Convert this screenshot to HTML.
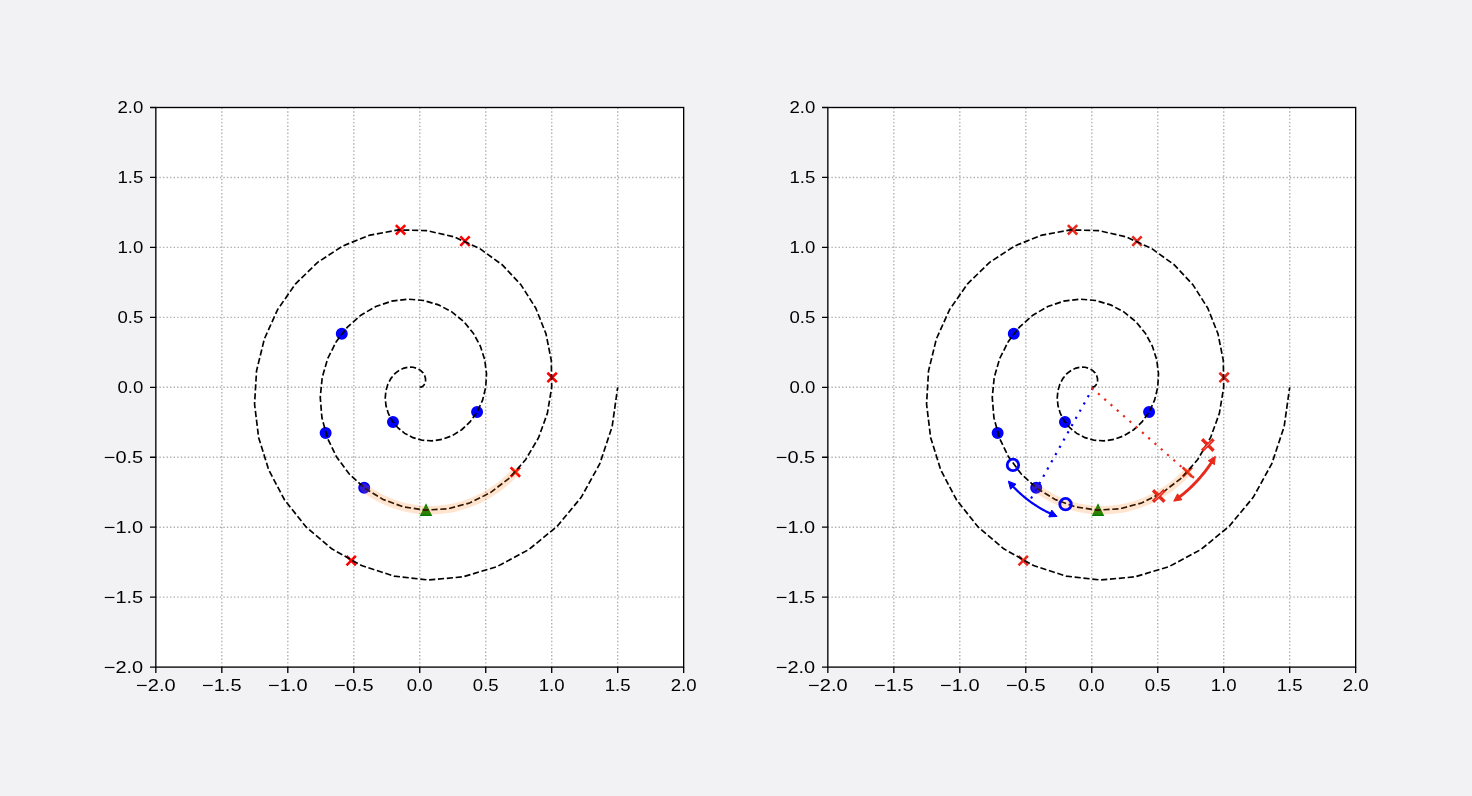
<!DOCTYPE html>
<html><head><meta charset="utf-8"><style>html,body{margin:0;padding:0;background:#f2f2f4;width:1472px;height:796px;overflow:hidden}</style></head>
<body><svg width="1472" height="796" viewBox="0 0 1472 796" style="display:block;will-change:transform">
<rect width="1472" height="796" fill="#f2f2f4"/>
<g font-family="'Liberation Sans', sans-serif" font-size="16.67" fill="#000">
<rect x="155.84" y="107.50" width="527.83" height="559.60" fill="#ffffff"/>
<path d="M221.82 667.10 L221.82 107.50 M155.84 597.15 L683.67 597.15 M287.80 667.10 L287.80 107.50 M155.84 527.20 L683.67 527.20 M353.78 667.10 L353.78 107.50 M155.84 457.25 L683.67 457.25 M419.75 667.10 L419.75 107.50 M155.84 387.30 L683.67 387.30 M485.73 667.10 L485.73 107.50 M155.84 317.35 L683.67 317.35 M551.71 667.10 L551.71 107.50 M155.84 247.40 L683.67 247.40 M617.69 667.10 L617.69 107.50 M155.84 177.45 L683.67 177.45" stroke="#b0b0b0" stroke-width="1.4" stroke-dasharray="1.4 2.154" fill="none"/>
<path d="M395.86 225.09 L405.26 234.49 M395.86 234.49 L405.26 225.09" stroke="#ff0000" stroke-width="2.6" fill="none"/>
<path d="M460.28 236.40 L469.68 245.80 M460.28 245.80 L469.68 236.40" stroke="#ff0000" stroke-width="2.6" fill="none"/>
<path d="M547.42 372.71 L556.82 382.11 M547.42 382.11 L556.82 372.71" stroke="#ff0000" stroke-width="2.6" fill="none"/>
<path d="M510.65 467.39 L520.05 476.79 M510.65 476.79 L520.05 467.39" stroke="#ff0000" stroke-width="2.6" fill="none"/>
<path d="M346.49 555.91 L355.89 565.31 M346.49 565.31 L355.89 555.91" stroke="#ff0000" stroke-width="2.6" fill="none"/>
<circle cx="341.79" cy="333.70" r="5.2" fill="#0000ff" stroke="#0000ff" stroke-width="1.6"/>
<circle cx="325.64" cy="432.89" r="5.2" fill="#0000ff" stroke="#0000ff" stroke-width="1.6"/>
<circle cx="392.97" cy="421.98" r="5.2" fill="#0000ff" stroke="#0000ff" stroke-width="1.6"/>
<circle cx="477.07" cy="412.11" r="5.2" fill="#0000ff" stroke="#0000ff" stroke-width="1.6"/>
<circle cx="364.19" cy="487.82" r="5.2" fill="#0000ff" stroke="#0000ff" stroke-width="1.6"/>
<path d="M426.01 505.13 L421.01 515.13 L431.01 515.13 Z" fill="#008000" stroke="#008000" stroke-width="1.6" stroke-linejoin="miter"/>
<path d="M419.75 387.30 L421.72 386.90 L423.47 385.72 L424.80 383.86 L425.54 381.45 L425.55 378.67 L424.74 375.73 L423.05 372.88 L420.52 370.36 L417.19 368.42 L413.22 367.27 L408.76 367.11 L404.04 368.08 L399.32 370.27 L394.88 373.70 L390.98 378.34 L387.91 384.08 L385.92 390.73 L385.22 398.05 L385.99 405.75 L388.32 413.51 L392.26 420.94 L397.76 427.69 L404.71 433.37 L412.93 437.65 L422.13 440.23 L432.01 440.86 L442.18 439.36 L452.23 435.65 L461.72 429.72 L470.21 421.68 L477.30 411.72 L482.58 400.14 L485.73 387.30 L486.50 373.66 L484.72 359.73 L480.31 346.04 L473.29 333.18 L463.83 321.69 L452.15 312.10 L438.61 304.90 L423.66 300.49 L407.80 299.18 L391.64 301.17 L375.77 306.53 L360.84 315.21 L347.46 327.03 L336.23 341.65 L327.67 358.63 L322.23 377.43 L320.24 397.37 L321.92 417.76 L327.35 437.81 L336.46 456.75 L349.05 473.81 L364.77 488.26 L383.14 499.47 L403.54 506.89 L425.27 510.10 L447.57 508.84 L469.59 502.99 L490.50 492.63 L509.47 477.99 L525.72 459.50 L538.55 437.72 L547.36 413.38 L551.71 387.30 L551.29 360.42 L545.97 333.73 L535.81 308.23 L521.05 284.91 L502.10 264.71 L479.56 248.47 L454.16 236.92 L426.79 230.62 L398.41 229.94 L370.06 235.06 L342.78 245.95 L317.63 262.35 L295.60 283.79 L277.59 309.60 L264.37 338.93 L256.55 370.78 L254.56 404.02 L258.61 437.46 L268.70 469.86 L284.60 499.99 L305.85 526.67 L331.78 548.84 L361.56 565.58 L394.15 576.13 L428.41 579.97 L463.12 576.82 L497.00 566.62 L528.77 549.61 L557.22 526.26 L581.22 497.32 L599.80 463.72 L612.15 426.61 L617.69 387.30" stroke="#000" stroke-width="1.67" stroke-dasharray="6.20 2.686" stroke-dashoffset="0" fill="none"/>
<path d="M364.19 487.82 L367.37 490.17 L370.65 492.40 L374.00 494.52 L377.44 496.52 L380.96 498.39 L384.54 500.14 L388.20 501.76 L391.91 503.24 L395.69 504.59 L399.52 505.79 L403.41 506.86 L407.33 507.78 L411.30 508.56 L415.31 509.19 L419.35 509.67 L423.41 510.00 L427.49 510.18 L431.59 510.21 L435.71 510.08 L439.82 509.79 L443.94 509.35 L448.06 508.76 L452.16 508.01 L456.25 507.10 L460.32 506.03 L464.36 504.81 L468.38 503.44 L472.35 501.91 L476.29 500.22 L480.18 498.39 L484.01 496.40 L487.79 494.27 L491.51 491.99 L495.15 489.56 L498.73 486.99 L502.23 484.28 L505.65 481.44 L508.98 478.45 L512.21 475.34 L515.35 472.09" stroke="#ff7f0e" stroke-opacity="0.2" stroke-width="8.5" fill="none" stroke-linecap="round"/>
<rect x="155.84" y="107.50" width="527.83" height="559.60" fill="none" stroke="#000" stroke-width="1.33"/>
<path d="M155.84 667.10 L155.84 672.93 M155.84 667.10 L150.01 667.10 M221.82 667.10 L221.82 672.93 M155.84 597.15 L150.01 597.15 M287.80 667.10 L287.80 672.93 M155.84 527.20 L150.01 527.20 M353.78 667.10 L353.78 672.93 M155.84 457.25 L150.01 457.25 M419.75 667.10 L419.75 672.93 M155.84 387.30 L150.01 387.30 M485.73 667.10 L485.73 672.93 M155.84 317.35 L150.01 317.35 M551.71 667.10 L551.71 672.93 M155.84 247.40 L150.01 247.40 M617.69 667.10 L617.69 672.93 M155.84 177.45 L150.01 177.45 M683.67 667.10 L683.67 672.93 M155.84 107.50 L150.01 107.50" stroke="#000" stroke-width="1.33" fill="none"/>
<text x="155.84" y="691.30" text-anchor="middle" textLength="39.46" lengthAdjust="spacingAndGlyphs">−2.0</text>
<text x="143.24" y="672.60" text-anchor="end" textLength="39.46" lengthAdjust="spacingAndGlyphs">−2.0</text>
<text x="221.82" y="691.30" text-anchor="middle" textLength="39.46" lengthAdjust="spacingAndGlyphs">−1.5</text>
<text x="143.24" y="602.65" text-anchor="end" textLength="39.46" lengthAdjust="spacingAndGlyphs">−1.5</text>
<text x="287.80" y="691.30" text-anchor="middle" textLength="39.46" lengthAdjust="spacingAndGlyphs">−1.0</text>
<text x="143.24" y="532.70" text-anchor="end" textLength="39.46" lengthAdjust="spacingAndGlyphs">−1.0</text>
<text x="353.78" y="691.30" text-anchor="middle" textLength="39.46" lengthAdjust="spacingAndGlyphs">−0.5</text>
<text x="143.24" y="462.75" text-anchor="end" textLength="39.46" lengthAdjust="spacingAndGlyphs">−0.5</text>
<text x="419.75" y="691.30" text-anchor="middle" textLength="25.84" lengthAdjust="spacingAndGlyphs">0.0</text>
<text x="143.24" y="392.80" text-anchor="end" textLength="25.84" lengthAdjust="spacingAndGlyphs">0.0</text>
<text x="485.73" y="691.30" text-anchor="middle" textLength="25.84" lengthAdjust="spacingAndGlyphs">0.5</text>
<text x="143.24" y="322.85" text-anchor="end" textLength="25.84" lengthAdjust="spacingAndGlyphs">0.5</text>
<text x="551.71" y="691.30" text-anchor="middle" textLength="25.84" lengthAdjust="spacingAndGlyphs">1.0</text>
<text x="143.24" y="252.90" text-anchor="end" textLength="25.84" lengthAdjust="spacingAndGlyphs">1.0</text>
<text x="617.69" y="691.30" text-anchor="middle" textLength="25.84" lengthAdjust="spacingAndGlyphs">1.5</text>
<text x="143.24" y="182.95" text-anchor="end" textLength="25.84" lengthAdjust="spacingAndGlyphs">1.5</text>
<text x="683.67" y="691.30" text-anchor="middle" textLength="25.84" lengthAdjust="spacingAndGlyphs">2.0</text>
<text x="143.24" y="113.00" text-anchor="end" textLength="25.84" lengthAdjust="spacingAndGlyphs">2.0</text>
<rect x="827.84" y="107.50" width="527.83" height="559.60" fill="#ffffff"/>
<path d="M893.82 667.10 L893.82 107.50 M827.84 597.15 L1355.67 597.15 M959.80 667.10 L959.80 107.50 M827.84 527.20 L1355.67 527.20 M1025.78 667.10 L1025.78 107.50 M827.84 457.25 L1355.67 457.25 M1091.76 667.10 L1091.76 107.50 M827.84 387.30 L1355.67 387.30 M1157.73 667.10 L1157.73 107.50 M827.84 317.35 L1355.67 317.35 M1223.71 667.10 L1223.71 107.50 M827.84 247.40 L1355.67 247.40 M1289.69 667.10 L1289.69 107.50 M827.84 177.45 L1355.67 177.45" stroke="#b0b0b0" stroke-width="1.4" stroke-dasharray="1.4 2.154" fill="none"/>
<path d="M1067.86 225.09 L1077.26 234.49 M1067.86 234.49 L1077.26 225.09" stroke="#e8291c" stroke-width="2.6" fill="none"/>
<path d="M1132.28 236.40 L1141.68 245.80 M1132.28 245.80 L1141.68 236.40" stroke="#e8291c" stroke-width="2.6" fill="none"/>
<path d="M1219.42 372.71 L1228.82 382.11 M1219.42 382.11 L1228.82 372.71" stroke="#e8291c" stroke-width="2.6" fill="none"/>
<path d="M1182.65 467.39 L1192.05 476.79 M1182.65 476.79 L1192.05 467.39" stroke="#e8291c" stroke-width="2.6" fill="none"/>
<path d="M1018.49 555.91 L1027.89 565.31 M1018.49 565.31 L1027.89 555.91" stroke="#e8291c" stroke-width="2.6" fill="none"/>
<circle cx="1013.79" cy="333.70" r="5.2" fill="#0000ff" stroke="#0000ff" stroke-width="1.6"/>
<circle cx="997.64" cy="432.89" r="5.2" fill="#0000ff" stroke="#0000ff" stroke-width="1.6"/>
<circle cx="1064.97" cy="421.98" r="5.2" fill="#0000ff" stroke="#0000ff" stroke-width="1.6"/>
<circle cx="1149.07" cy="412.11" r="5.2" fill="#0000ff" stroke="#0000ff" stroke-width="1.6"/>
<circle cx="1036.19" cy="487.82" r="5.2" fill="#0000ff" stroke="#0000ff" stroke-width="1.6"/>
<path d="M1098.01 505.13 L1093.01 515.13 L1103.01 515.13 Z" fill="#008000" stroke="#008000" stroke-width="1.6" stroke-linejoin="miter"/>
<path d="M1091.76 387.30 L1093.72 386.90 L1095.47 385.72 L1096.80 383.86 L1097.54 381.45 L1097.55 378.67 L1096.74 375.73 L1095.05 372.88 L1092.52 370.36 L1089.19 368.42 L1085.22 367.27 L1080.76 367.11 L1076.04 368.08 L1071.32 370.27 L1066.88 373.70 L1062.98 378.34 L1059.91 384.08 L1057.92 390.73 L1057.22 398.05 L1057.99 405.75 L1060.32 413.51 L1064.26 420.94 L1069.76 427.69 L1076.71 433.37 L1084.93 437.65 L1094.13 440.23 L1104.01 440.86 L1114.18 439.36 L1124.23 435.65 L1133.72 429.72 L1142.21 421.68 L1149.30 411.72 L1154.58 400.14 L1157.73 387.30 L1158.50 373.66 L1156.72 359.73 L1152.31 346.04 L1145.29 333.18 L1135.83 321.69 L1124.15 312.10 L1110.61 304.90 L1095.66 300.49 L1079.80 299.18 L1063.64 301.17 L1047.77 306.53 L1032.84 315.21 L1019.46 327.03 L1008.23 341.65 L999.67 358.63 L994.23 377.43 L992.24 397.37 L993.92 417.76 L999.35 437.81 L1008.46 456.75 L1021.05 473.81 L1036.77 488.26 L1055.14 499.47 L1075.54 506.89 L1097.27 510.10 L1119.57 508.84 L1141.59 502.99 L1162.50 492.63 L1181.47 477.99 L1197.72 459.50 L1210.55 437.72 L1219.36 413.38 L1223.71 387.30 L1223.29 360.42 L1217.97 333.73 L1207.81 308.23 L1193.05 284.91 L1174.10 264.71 L1151.56 248.47 L1126.16 236.92 L1098.79 230.62 L1070.41 229.94 L1042.06 235.06 L1014.78 245.95 L989.63 262.35 L967.60 283.79 L949.59 309.60 L936.37 338.93 L928.55 370.78 L926.56 404.02 L930.61 437.46 L940.70 469.86 L956.60 499.99 L977.85 526.67 L1003.78 548.84 L1033.56 565.58 L1066.15 576.13 L1100.41 579.97 L1135.12 576.82 L1169.00 566.62 L1200.77 549.61 L1229.22 526.26 L1253.22 497.32 L1271.80 463.72 L1284.15 426.61 L1289.69 387.30" stroke="#000" stroke-width="1.67" stroke-dasharray="6.20 2.686" stroke-dashoffset="0" fill="none"/>
<path d="M1036.19 487.82 L1039.37 490.17 L1042.65 492.40 L1046.00 494.52 L1049.44 496.52 L1052.96 498.39 L1056.54 500.14 L1060.20 501.76 L1063.91 503.24 L1067.69 504.59 L1071.52 505.79 L1075.41 506.86 L1079.33 507.78 L1083.30 508.56 L1087.31 509.19 L1091.35 509.67 L1095.41 510.00 L1099.49 510.18 L1103.59 510.21 L1107.71 510.08 L1111.82 509.79 L1115.94 509.35 L1120.06 508.76 L1124.16 508.01 L1128.25 507.10 L1132.32 506.03 L1136.36 504.81 L1140.38 503.44 L1144.35 501.91 L1148.29 500.22 L1152.18 498.39 L1156.01 496.40 L1159.79 494.27 L1163.51 491.99 L1167.15 489.56 L1170.73 486.99 L1174.23 484.28 L1177.65 481.44 L1180.98 478.45 L1184.21 475.34 L1187.35 472.09" stroke="#ff7f0e" stroke-opacity="0.2" stroke-width="8.5" fill="none" stroke-linecap="round"/>
<path d="M1092.91 387.95 L1031.06 498.45" stroke="#0000ff" stroke-width="2.2" stroke-dasharray="2.2 6.095" fill="none"/>
<path d="M1091.76 387.80 L1194.00 477.90" stroke="#e8291c" stroke-width="2.2" stroke-dasharray="2.2 6.175" fill="none"/>
<circle cx="1012.96" cy="464.97" r="5.75" fill="none" stroke="#0000ff" stroke-width="2.8"/>
<circle cx="1065.54" cy="504.21" r="5.75" fill="none" stroke="#0000ff" stroke-width="2.8"/>
<path d="M1202.08 439.21 L1213.58 450.71 M1202.08 450.71 L1213.58 439.21" stroke="#e8291c" stroke-width="3.3" fill="none"/>
<path d="M1204.28 448.51 L1211.38 441.41" stroke="#ffffff" stroke-width="0.8" stroke-dasharray="1.1 0.7" fill="none"/>
<path d="M1153.02 490.27 L1164.52 501.77 M1153.02 501.77 L1164.52 490.27" stroke="#e8291c" stroke-width="3.3" fill="none"/>
<path d="M1155.22 499.57 L1162.32 492.47" stroke="#ffffff" stroke-width="0.8" stroke-dasharray="1.1 0.7" fill="none"/>
<path d="M1012.26 485.61 L1013.10 486.50 L1013.94 487.39 L1014.79 488.26 L1015.65 489.13 L1016.52 489.99 L1017.40 490.84 L1018.29 491.68 L1019.18 492.52 L1020.08 493.34 L1020.99 494.16 L1021.91 494.97 L1022.84 495.77 L1023.77 496.55 L1024.71 497.33 L1025.66 498.11 L1026.62 498.87 L1027.58 499.62 L1028.55 500.36 L1029.53 501.09 L1030.52 501.82 L1031.51 502.53 L1032.51 503.23 L1033.52 503.92 L1034.53 504.61 L1035.55 505.28 L1036.58 505.95 L1037.62 506.60 L1038.66 507.24 L1039.70 507.87 L1040.75 508.49 L1041.81 509.11 L1042.88 509.71 L1043.95 510.29 L1045.03 510.87 L1046.11 511.44 L1047.20 512.00 L1048.29 512.55 L1049.39 513.08 L1050.49 513.61 L1051.60 514.12" stroke="#0000ff" stroke-width="2.2" fill="none"/>
<path d="M1008.34 481.17 L1016.03 484.22 L1010.51 489.16 Z" fill="#0000ff" stroke="#0000ff" stroke-width="1" stroke-linejoin="miter"/>
<path d="M1057.05 516.45 L1048.78 516.89 L1051.74 510.11 Z" fill="#0000ff" stroke="#0000ff" stroke-width="1" stroke-linejoin="miter"/>
<path d="M1212.16 461.42 L1211.48 462.46 L1210.79 463.50 L1210.10 464.53 L1209.39 465.55 L1208.67 466.57 L1207.95 467.58 L1207.22 468.58 L1206.48 469.58 L1205.73 470.57 L1204.97 471.56 L1204.21 472.54 L1203.43 473.51 L1202.65 474.48 L1201.86 475.44 L1201.06 476.39 L1200.26 477.33 L1199.44 478.27 L1198.62 479.20 L1197.79 480.12 L1196.95 481.04 L1196.10 481.95 L1195.24 482.85 L1194.38 483.75 L1193.51 484.63 L1192.63 485.51 L1191.74 486.38 L1190.85 487.24 L1189.95 488.10 L1189.04 488.95 L1188.12 489.78 L1187.19 490.61 L1186.26 491.43 L1185.32 492.25 L1184.38 493.05 L1183.42 493.85 L1182.46 494.64 L1181.49 495.42 L1180.52 496.19 L1179.53 496.95 L1178.54 497.70" stroke="#e8291c" stroke-width="2.9" fill="none"/>
<path d="M1215.28 456.39 L1214.48 464.63 L1208.21 460.70 Z" fill="#e8291c" stroke="#e8291c" stroke-width="1" stroke-linejoin="miter"/>
<path d="M1173.74 501.16 L1177.55 493.81 L1181.90 499.80 Z" fill="#e8291c" stroke="#e8291c" stroke-width="1" stroke-linejoin="miter"/>
<rect x="827.84" y="107.50" width="527.83" height="559.60" fill="none" stroke="#000" stroke-width="1.33"/>
<path d="M827.84 667.10 L827.84 672.93 M827.84 667.10 L822.01 667.10 M893.82 667.10 L893.82 672.93 M827.84 597.15 L822.01 597.15 M959.80 667.10 L959.80 672.93 M827.84 527.20 L822.01 527.20 M1025.78 667.10 L1025.78 672.93 M827.84 457.25 L822.01 457.25 M1091.76 667.10 L1091.76 672.93 M827.84 387.30 L822.01 387.30 M1157.73 667.10 L1157.73 672.93 M827.84 317.35 L822.01 317.35 M1223.71 667.10 L1223.71 672.93 M827.84 247.40 L822.01 247.40 M1289.69 667.10 L1289.69 672.93 M827.84 177.45 L822.01 177.45 M1355.67 667.10 L1355.67 672.93 M827.84 107.50 L822.01 107.50" stroke="#000" stroke-width="1.33" fill="none"/>
<text x="827.84" y="691.30" text-anchor="middle" textLength="39.46" lengthAdjust="spacingAndGlyphs">−2.0</text>
<text x="815.24" y="672.60" text-anchor="end" textLength="39.46" lengthAdjust="spacingAndGlyphs">−2.0</text>
<text x="893.82" y="691.30" text-anchor="middle" textLength="39.46" lengthAdjust="spacingAndGlyphs">−1.5</text>
<text x="815.24" y="602.65" text-anchor="end" textLength="39.46" lengthAdjust="spacingAndGlyphs">−1.5</text>
<text x="959.80" y="691.30" text-anchor="middle" textLength="39.46" lengthAdjust="spacingAndGlyphs">−1.0</text>
<text x="815.24" y="532.70" text-anchor="end" textLength="39.46" lengthAdjust="spacingAndGlyphs">−1.0</text>
<text x="1025.78" y="691.30" text-anchor="middle" textLength="39.46" lengthAdjust="spacingAndGlyphs">−0.5</text>
<text x="815.24" y="462.75" text-anchor="end" textLength="39.46" lengthAdjust="spacingAndGlyphs">−0.5</text>
<text x="1091.76" y="691.30" text-anchor="middle" textLength="25.84" lengthAdjust="spacingAndGlyphs">0.0</text>
<text x="815.24" y="392.80" text-anchor="end" textLength="25.84" lengthAdjust="spacingAndGlyphs">0.0</text>
<text x="1157.73" y="691.30" text-anchor="middle" textLength="25.84" lengthAdjust="spacingAndGlyphs">0.5</text>
<text x="815.24" y="322.85" text-anchor="end" textLength="25.84" lengthAdjust="spacingAndGlyphs">0.5</text>
<text x="1223.71" y="691.30" text-anchor="middle" textLength="25.84" lengthAdjust="spacingAndGlyphs">1.0</text>
<text x="815.24" y="252.90" text-anchor="end" textLength="25.84" lengthAdjust="spacingAndGlyphs">1.0</text>
<text x="1289.69" y="691.30" text-anchor="middle" textLength="25.84" lengthAdjust="spacingAndGlyphs">1.5</text>
<text x="815.24" y="182.95" text-anchor="end" textLength="25.84" lengthAdjust="spacingAndGlyphs">1.5</text>
<text x="1355.67" y="691.30" text-anchor="middle" textLength="25.84" lengthAdjust="spacingAndGlyphs">2.0</text>
<text x="815.24" y="113.00" text-anchor="end" textLength="25.84" lengthAdjust="spacingAndGlyphs">2.0</text>
</g>
</svg></body></html>
